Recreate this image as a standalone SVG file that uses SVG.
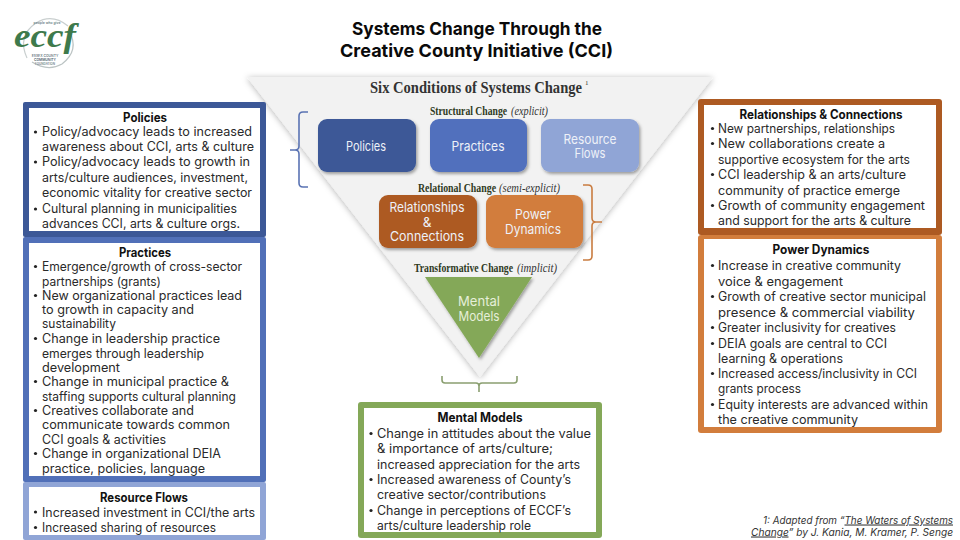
<svg xmlns="http://www.w3.org/2000/svg" width="960" height="540" viewBox="0 0 960 540">
<style>
text{font-family:Inter,"Open Sans","Liberation Sans",sans-serif;fill:#222}
.b{font-size:12.5px;fill:#2a2a2a}
.h{font-size:12.5px;font-weight:700;text-anchor:middle;fill:#111}
.n{font-size:13.5px;text-anchor:middle;fill:#eef1f8}
.s{font-family:"Liberation Serif",serif;font-size:11.5px;font-weight:700;fill:#2f3a1e}
.i{font-family:"Liberation Serif",serif;font-size:11.5px;font-style:italic;fill:#333}
.t{font-size:18px;font-weight:700;text-anchor:middle;fill:#0a0a0a}
.f{font-size:10.5px;font-style:italic;fill:#333}
.l{font-size:3.4px;text-anchor:middle;fill:#6f7f88;font-weight:600}
.br{fill:none;stroke-width:1.6}
.in{fill:#fff}
circle{fill:#222}
</style>
<defs>
<filter id="sh" x="-20%" y="-20%" width="140%" height="140%"><feDropShadow dx="1.5" dy="2" stdDeviation="1.6" flood-color="#000" flood-opacity=".35"/></filter>
<filter id="tsh" x="-10%" y="-10%" width="120%" height="120%"><feDropShadow dx="0" dy="1" stdDeviation="3" flood-color="#000" flood-opacity=".3"/></filter>
</defs>

<g id="logo">
<path d="M27 58Q17 36 36 23Q52 13 68 26" fill="none" stroke="#c9cfcf" stroke-width="1.2"/>
<path d="M69 31Q80 50 62 64Q48 72 32 62" fill="none" stroke="#bcc4c4" stroke-width="1.2"/>
<text x="47" y="24" class="l">people who give</text>
<text x="14" y="47" textLength="62" lengthAdjust="spacingAndGlyphs" style="font-family:'Liberation Serif',serif;font-style:italic;font-weight:700;font-size:34px;fill:#3e7a4c">eccf</text>
<text x="45" y="56.500" class="l">ESSEX COUNTY</text>
<text x="45" y="61" class="l" style="fill:#4f6470">COMMUNITY</text>
<text x="45" y="65.200" class="l" style="font-size:3px">FOUNDATION</text>
</g>

<g id="title">
<text x="477" y="35" class="t" textLength="250" lengthAdjust="spacingAndGlyphs">Systems Change Through the</text>
<text x="476.500" y="57" class="t" textLength="273" lengthAdjust="spacingAndGlyphs">Creative County Initiative (CCI)</text>
</g>

<g id="triangle">
<path d="M247 77H713L480 377Z" fill="#f2f2f2" filter="url(#tsh)"/>
<text x="370" y="93" textLength="212" lengthAdjust="spacingAndGlyphs" style="font-family:'Liberation Serif',serif;font-size:16px;font-weight:700;fill:#333">Six Conditions of Systems Change</text>
<text x="585" y="85" style="font-family:'Liberation Serif',serif;font-size:7px;fill:#333">1</text>
<text x="430" y="114.500" class="s" textLength="77" lengthAdjust="spacingAndGlyphs">Structural Change</text>
<text x="511" y="114.500" class="i" textLength="37" lengthAdjust="spacingAndGlyphs">(explicit)</text>
<text x="418" y="191.500" class="s" textLength="78" lengthAdjust="spacingAndGlyphs">Relational Change</text>
<text x="499" y="191.500" class="i" textLength="61" lengthAdjust="spacingAndGlyphs">(semi-explicit)</text>
<text x="414" y="271.500" class="s" textLength="99" lengthAdjust="spacingAndGlyphs">Transformative Change</text>
<text x="517" y="271.500" class="i" textLength="40" lengthAdjust="spacingAndGlyphs">(implicit)</text>
</g>

<g id="connectors">
<path class="br" stroke="#5a73b3" d="M308 112H303Q299 112 299 116V146Q299 150 295 150H290M295 150Q299 150 299 154V183Q299 187 303 187H308"/>
<path class="br" stroke="#c97c40" d="M583 185H588Q592 185 592 189V218Q592 222 596 222H602M596 222Q592 222 592 226V256Q592 260 588 260H583"/>
<path class="br" stroke="#8a9f70" d="M442 376V380Q442 383 445 383H476Q479 383 479 386V392M479 386Q479 383 482 383H514Q517 383 517 380V376"/>
</g>

<g id="c-policies">
<rect x="318" y="119" width="98" height="53" rx="9" fill="#3c5897" filter="url(#sh)"/>
<text x="366" y="151" class="n" textLength="40" lengthAdjust="spacingAndGlyphs">Policies</text>
</g>
<g id="c-practices">
<rect x="430" y="119" width="97" height="53" rx="9" fill="#5170bd" filter="url(#sh)"/>
<text x="478" y="151" class="n" textLength="53" lengthAdjust="spacingAndGlyphs">Practices</text>
</g>
<g id="c-resource">
<rect x="541" y="119" width="98" height="53" rx="9" fill="#90a5d6" filter="url(#sh)"/>
<text x="590" y="144" class="n" textLength="53" lengthAdjust="spacingAndGlyphs">Resource</text>
<text x="590" y="158" class="n" textLength="31" lengthAdjust="spacingAndGlyphs">Flows</text>
</g>
<g id="c-relationships">
<rect x="379" y="195" width="98" height="53" rx="9" fill="#ad5a22" filter="url(#sh)"/>
<text x="427" y="212" class="n" textLength="75" lengthAdjust="spacingAndGlyphs">Relationships</text>
<text x="427" y="226.500" class="n">&amp;</text>
<text x="427" y="241" class="n" textLength="74" lengthAdjust="spacingAndGlyphs">Connections</text>
</g>
<g id="c-power">
<rect x="486" y="195" width="97" height="53" rx="9" fill="#d27d3c" filter="url(#sh)"/>
<text x="533" y="219" class="n" textLength="36" lengthAdjust="spacingAndGlyphs">Power</text>
<text x="533" y="234" class="n" textLength="56" lengthAdjust="spacingAndGlyphs">Dynamics</text>
</g>
<g id="c-mental">
<path d="M425 277H532L479 358Z" fill="#84a858" filter="url(#sh)"/>
<text x="479" y="306" class="n" textLength="42" lengthAdjust="spacingAndGlyphs" style="fill:#e6efd9">Mental</text>
<text x="479" y="321" class="n" textLength="41" lengthAdjust="spacingAndGlyphs" style="fill:#e6efd9">Models</text>
</g>

<g id="box-policies">
<rect x="23" y="102" width="243" height="135" rx="2" fill="#3c5897"/>
<rect class="in" x="29" y="108" width="231" height="123"/>
<text x="145" y="121.500" class="h" textLength="44" lengthAdjust="spacingAndGlyphs">Policies</text>
<circle cx="35.500" cy="132" r="1.600"/>
<text x="42" y="135.500" class="b" textLength="210" lengthAdjust="spacingAndGlyphs">Policy/advocacy leads to increased</text>
<text x="42" y="150.500" class="b" textLength="212" lengthAdjust="spacingAndGlyphs">awareness about CCI, arts &amp; culture</text>
<circle cx="35.500" cy="162" r="1.600"/>
<text x="42" y="166" class="b" textLength="208" lengthAdjust="spacingAndGlyphs">Policy/advocacy leads to growth in</text>
<text x="42" y="181.500" class="b" textLength="206" lengthAdjust="spacingAndGlyphs">arts/culture audiences, investment,</text>
<text x="42" y="197" class="b" textLength="210" lengthAdjust="spacingAndGlyphs">economic vitality for creative sector</text>
<circle cx="35.500" cy="209" r="1.600"/>
<text x="42" y="212.500" class="b" textLength="195" lengthAdjust="spacingAndGlyphs">Cultural planning in municipalities</text>
<text x="42" y="228" class="b" textLength="198" lengthAdjust="spacingAndGlyphs">advances CCI, arts &amp; culture orgs.</text>
</g>

<g id="box-practices">
<rect x="23" y="237" width="243" height="245" rx="2" fill="#5170b8"/>
<rect class="in" x="29" y="243" width="231" height="233"/>
<text x="145" y="256.500" class="h" textLength="52" lengthAdjust="spacingAndGlyphs">Practices</text>
<circle cx="35.500" cy="266.500" r="1.600"/>
<text x="42" y="270.500" class="b" textLength="200" lengthAdjust="spacingAndGlyphs">Emergence/growth of cross-sector</text>
<text x="42" y="285.500" class="b" textLength="119" lengthAdjust="spacingAndGlyphs">partnerships (grants)</text>
<circle cx="35.500" cy="295.500" r="1.600"/>
<text x="42" y="299.500" class="b" textLength="200" lengthAdjust="spacingAndGlyphs">New organizational practices lead</text>
<text x="42" y="313.500" class="b" textLength="152" lengthAdjust="spacingAndGlyphs">to growth in capacity and</text>
<text x="42" y="328" class="b" textLength="74" lengthAdjust="spacingAndGlyphs">sustainability</text>
<circle cx="35.500" cy="338.500" r="1.600"/>
<text x="42" y="342.500" class="b" textLength="178" lengthAdjust="spacingAndGlyphs">Change in leadership practice</text>
<text x="42" y="357.500" class="b" textLength="162" lengthAdjust="spacingAndGlyphs">emerges through leadership</text>
<text x="42" y="371.500" class="b" textLength="78" lengthAdjust="spacingAndGlyphs">development</text>
<circle cx="35.500" cy="381.500" r="1.600"/>
<text x="42" y="385.500" class="b" textLength="187" lengthAdjust="spacingAndGlyphs">Change in municipal practice &amp;</text>
<text x="42" y="400.500" class="b" textLength="194" lengthAdjust="spacingAndGlyphs">staffing supports cultural planning</text>
<circle cx="35.500" cy="410.500" r="1.600"/>
<text x="42" y="414.500" class="b" textLength="152" lengthAdjust="spacingAndGlyphs">Creatives collaborate and</text>
<text x="42" y="429" class="b" textLength="188" lengthAdjust="spacingAndGlyphs">communicate towards common</text>
<text x="42" y="443.500" class="b" textLength="124" lengthAdjust="spacingAndGlyphs">CCI goals &amp; activities</text>
<circle cx="35.500" cy="453.500" r="1.600"/>
<text x="42" y="457.500" class="b" textLength="179" lengthAdjust="spacingAndGlyphs">Change in organizational DEIA</text>
<text x="42" y="472.500" class="b" textLength="163" lengthAdjust="spacingAndGlyphs">practice, policies, language</text>
</g>

<g id="box-resource">
<rect x="23" y="482" width="243" height="58" rx="2" fill="#90a5d6"/>
<rect class="in" x="29" y="487" width="231" height="48"/>
<text x="144" y="501.500" class="h" textLength="88" lengthAdjust="spacingAndGlyphs">Resource Flows</text>
<circle cx="35.500" cy="512" r="1.600"/>
<text x="42" y="516.500" class="b" textLength="213" lengthAdjust="spacingAndGlyphs">Increased investment in CCI/the arts</text>
<circle cx="35.500" cy="527.500" r="1.600"/>
<text x="42" y="531.500" class="b" textLength="174" lengthAdjust="spacingAndGlyphs">Increased sharing of resources</text>
</g>

<g id="box-relationships">
<rect x="698" y="99" width="244" height="136" rx="3" fill="#ad5a22"/>
<rect class="in" x="704" y="105" width="232" height="123"/>
<text x="821" y="118.500" class="h" textLength="163" lengthAdjust="spacingAndGlyphs">Relationships &amp; Connections</text>
<circle cx="712.500" cy="128.500" r="1.600"/>
<text x="718" y="132.500" class="b" textLength="177" lengthAdjust="spacingAndGlyphs">New partnerships, relationships</text>
<circle cx="712.500" cy="143.500" r="1.600"/>
<text x="718" y="147.500" class="b" textLength="167" lengthAdjust="spacingAndGlyphs">New collaborations create a</text>
<text x="718" y="163.500" class="b" textLength="192" lengthAdjust="spacingAndGlyphs">supportive ecosystem for the arts</text>
<circle cx="712.500" cy="174.500" r="1.600"/>
<text x="718" y="178.500" class="b" textLength="188" lengthAdjust="spacingAndGlyphs">CCI leadership &amp; an arts/culture</text>
<text x="718" y="194.500" class="b" textLength="182" lengthAdjust="spacingAndGlyphs">community of practice emerge</text>
<circle cx="712.500" cy="205.500" r="1.600"/>
<text x="718" y="209.500" class="b" textLength="207" lengthAdjust="spacingAndGlyphs">Growth of community engagement</text>
<text x="718" y="225" class="b" textLength="193" lengthAdjust="spacingAndGlyphs">and support for the arts &amp; culture</text>
</g>

<g id="box-power">
<rect x="698" y="235" width="244" height="198" rx="3" fill="#d27d3c"/>
<rect class="in" x="704" y="239" width="232" height="188"/>
<text x="821" y="253.500" class="h" textLength="97" lengthAdjust="spacingAndGlyphs">Power Dynamics</text>
<circle cx="712.500" cy="265.500" r="1.600"/>
<text x="718" y="269.500" class="b" textLength="183" lengthAdjust="spacingAndGlyphs">Increase in creative community</text>
<text x="718" y="285.500" class="b" textLength="125" lengthAdjust="spacingAndGlyphs">voice &amp; engagement</text>
<circle cx="712.500" cy="296.500" r="1.600"/>
<text x="718" y="300.500" class="b" textLength="208" lengthAdjust="spacingAndGlyphs">Growth of creative sector municipal</text>
<text x="718" y="316.500" class="b" textLength="197" lengthAdjust="spacingAndGlyphs">presence &amp; commercial viability</text>
<circle cx="712.500" cy="327.500" r="1.600"/>
<text x="718" y="331.500" class="b" textLength="178" lengthAdjust="spacingAndGlyphs">Greater inclusivity for creatives</text>
<circle cx="712.500" cy="343.500" r="1.600"/>
<text x="718" y="347.500" class="b" textLength="169" lengthAdjust="spacingAndGlyphs">DEIA goals are central to CCI</text>
<text x="718" y="362.500" class="b" textLength="125" lengthAdjust="spacingAndGlyphs">learning &amp; operations</text>
<circle cx="712.500" cy="373.500" r="1.600"/>
<text x="718" y="377.500" class="b" textLength="199" lengthAdjust="spacingAndGlyphs">Increased access/inclusivity in CCI</text>
<text x="718" y="392.500" class="b" textLength="83" lengthAdjust="spacingAndGlyphs">grants process</text>
<circle cx="712.500" cy="404.500" r="1.600"/>
<text x="718" y="408.500" class="b" textLength="210" lengthAdjust="spacingAndGlyphs">Equity interests are advanced within</text>
<text x="718" y="423.500" class="b" textLength="140" lengthAdjust="spacingAndGlyphs">the creative community</text>
</g>

<g id="box-mental">
<rect x="358" y="402" width="244" height="136" rx="3" fill="#84a858"/>
<rect class="in" x="364" y="408" width="232" height="124"/>
<text x="480" y="421.500" class="h" textLength="85" lengthAdjust="spacingAndGlyphs">Mental Models</text>
<circle cx="371" cy="433.500" r="1.600"/>
<text x="377" y="437.500" class="b" textLength="214" lengthAdjust="spacingAndGlyphs">Change in attitudes about the value</text>
<text x="377" y="452.500" class="b" textLength="176" lengthAdjust="spacingAndGlyphs">&amp; importance of arts/culture;</text>
<text x="377" y="468.500" class="b" textLength="203" lengthAdjust="spacingAndGlyphs">increased appreciation for the arts</text>
<circle cx="371" cy="479.500" r="1.600"/>
<text x="377" y="483.500" class="b" textLength="194" lengthAdjust="spacingAndGlyphs">Increased awareness of County’s</text>
<text x="377" y="498.500" class="b" textLength="169" lengthAdjust="spacingAndGlyphs">creative sector/contributions</text>
<circle cx="371" cy="510.500" r="1.600"/>
<text x="377" y="514.500" class="b" textLength="194" lengthAdjust="spacingAndGlyphs">Change in perceptions of ECCF’s</text>
<text x="377" y="529.500" class="b" textLength="154" lengthAdjust="spacingAndGlyphs">arts/culture leadership role</text>
</g>

<g id="footnote">
<text x="763" y="523.500" class="f" textLength="190" lengthAdjust="spacingAndGlyphs">1: Adapted from “<tspan text-decoration="underline">The Waters of Systems</tspan></text>
<text x="751" y="535.500" class="f" textLength="202" lengthAdjust="spacingAndGlyphs"><tspan text-decoration="underline">Change</tspan>” by J. Kania, M. Kramer, P. Senge</text>
</g>
</svg>
